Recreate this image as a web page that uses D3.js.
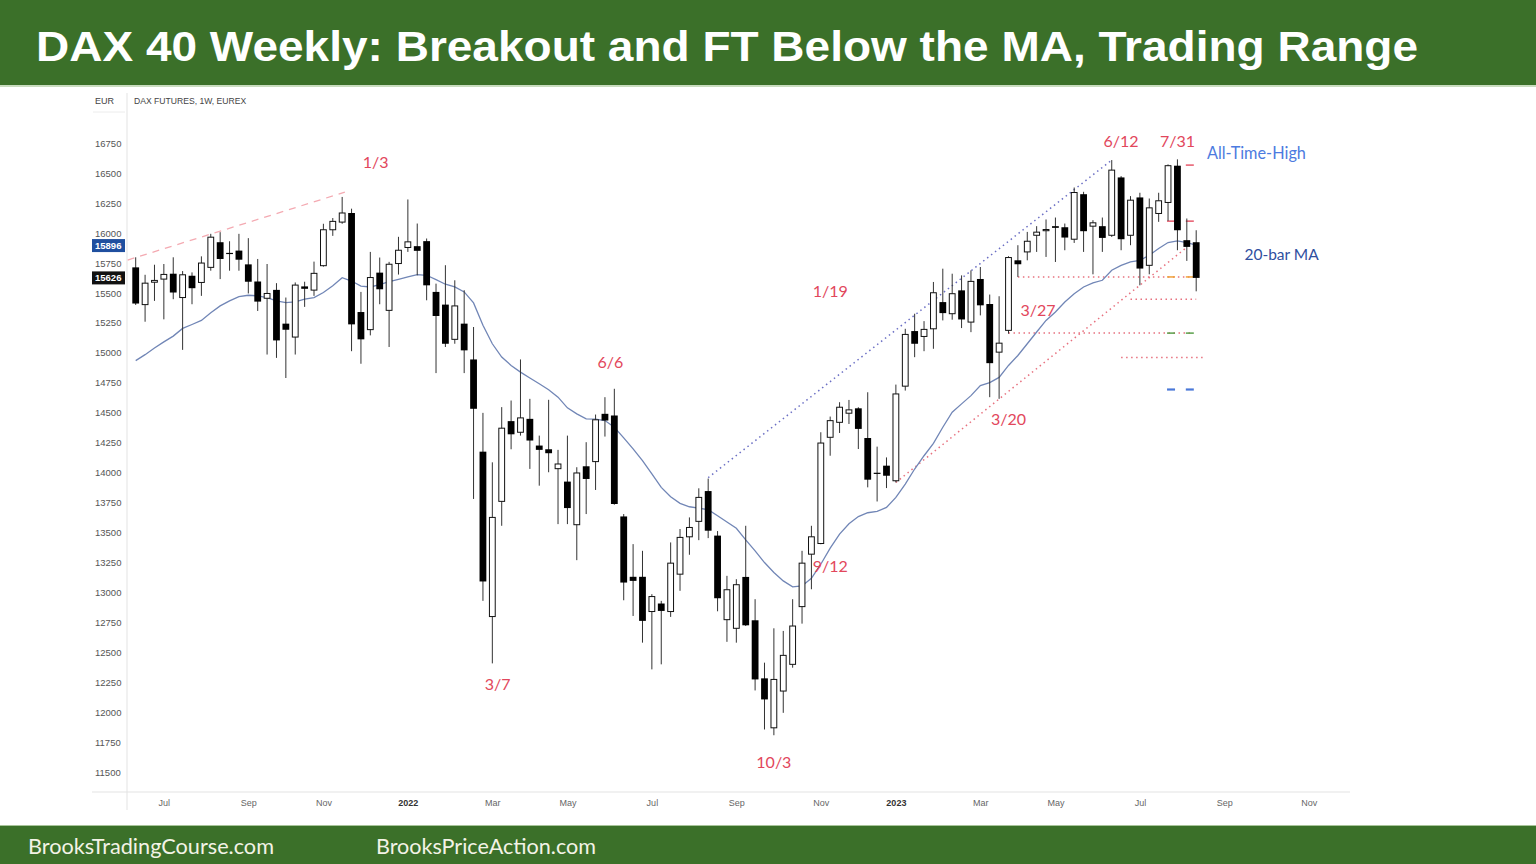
<!DOCTYPE html>
<html><head><meta charset="utf-8">
<script src="https://cdn.jsdelivr.net/npm/d3@7"></script>
<style>body{margin:0;background:#fff}svg{display:block}</style>
</head><body><svg id="c" width="1536" height="864"></svg>
<script>
// ---------------- DATA ----------------
const startDate = "2021-06-14"; // first weekly bar (Monday)
const opens = [15714,15403,15590,15616,15661,15462,15644,15588,15714,15924,
15835,15854,15739,15596,15456,15526,15244,15132,15555,15524,
15728,16028,16092,16168,15341,15194,15670,15355,15746,15880,
15891,15933,15509,15403,15113,15244,14945,14175,12798,13760,
14430,14337,14449,14226,14195,14033,13925,13565,14053,14092,
14491,14477,13634,13130,13130,12840,12907,12840,13152,13464,
13593,13846,13474,12772,12700,13129,12767,12282,11869,12176,
12399,12881,13319,13408,14295,14420,14496,14537,14289,13999,
14058,13932,14722,15182,15137,15201,15424,15327,15522,15257,
15617,15408,15006,15188,15773,15843,15982,16020,16058,16049,
15949,16325,16058,16058,15982,16465,15982,16298,15731,16164,
16256,16563,15941,15924];
const highs = [15798,15652,15736,15742,15798,15683,15672,15806,15994,16008,
15932,15994,15958,15784,15742,15582,15462,15588,15594,15762,
16078,16126,16302,16204,15509,15843,15796,15760,15969,16281,
16080,15955,15578,15732,15606,15523,15216,14499,14086,14547,
14602,14945,14616,14309,14608,14190,14309,14045,14254,14485,
14630,14700,13654,13403,13347,12985,12929,13417,13529,13626,
13869,13950,13512,13138,13110,13556,12943,12413,12700,12678,
12943,13347,13556,14337,14468,14588,14607,14546,14671,14217,
14127,14735,15201,15327,15265,15592,15703,15661,15647,15689,
15717,15487,15473,15807,15899,16010,16058,16114,16130,16080,
16381,16345,16108,16130,16610,16476,16309,16337,16289,16337,
16574,16616,16122,16024];
const lows = [15400,15260,15434,15280,15448,15025,15406,15476,15686,15616,
15686,15686,15496,15350,14986,14958,14790,14986,15384,15476,
15720,15977,16078,15014,14909,15146,15406,15049,15654,15843,
15648,15439,14831,15049,15076,14831,13780,12929,12407,13556,
14195,14309,14031,13891,14003,13570,13570,13269,13654,13855,
14301,13732,12934,12803,12580,12357,12399,12795,13013,13314,
13436,13453,12842,12587,12580,12719,12181,11855,11807,11994,
12371,12739,13026,13402,14141,14331,14406,14197,13877,13759,
13871,13918,14685,14964,15014,15034,15271,15277,15207,15173,
15313,14630,14616,15160,15634,15773,15843,15801,15759,15857,
15918,15843,15656,15843,15968,15857,15899,15564,15656,16094,
16102,15857,15768,15514];
const closes = [15412,15582,15605,15655,15504,15652,15540,15750,15966,15784,
15828,15778,15594,15428,15496,15104,15193,15566,15535,15664,
16028,16098,16168,15238,15113,15629,15531,15740,15857,15927,
15852,15564,15308,15076,15392,15021,14533,13091,13626,14371,
14320,14457,14268,14190,14162,14072,13704,13997,13947,14441,
14435,13738,13082,13096,12762,12965,12845,13244,13459,13542,
13793,13515,12951,13022,13064,12725,12273,12106,12273,12474,
12719,13244,13464,14247,14434,14546,14524,14365,13941,13994,
13974,14657,15154,15076,15196,15502,15332,15494,15279,15597,
15397,14914,15081,15796,15740,15932,16008,16030,16044,15963,
16339,16016,16086,15960,16526,15949,16275,15704,16211,16270,
16563,16024,15885,15626];
// 20-bar moving average
const ma20 = [14935,14985,15040,15092,15140,15204,15237,15271,15335,15392,
15434,15470,15481,15476,15462,15434,15420,15425,15448,15462,
15504,15560,15628,15600,15558,15550,15570,15594,15614,15634,
15653,15648,15612,15573,15551,15509,15417,15230,15076,14965,
14895,14839,14790,14742,14692,14630,14541,14491,14449,14446,
14435,14379,14290,14198,14100,13989,13877,13799,13743,13715,
13704,13690,13640,13588,13535,13438,13347,13249,13166,13096,
13046,13054,13118,13235,13369,13486,13573,13633,13665,13676,
13709,13793,13904,14030,14141,14245,14379,14504,14574,14643,
14727,14751,14795,14895,14978,15076,15174,15271,15341,15425,
15494,15550,15584,15606,15690,15731,15759,15773,15815,15871,
15921,15935,15920,15900];

const priceTicks = [11500,11750,12000,12250,12500,12750,13000,13250,13500,13750,14000,14250,14500,14750,15000,15250,15500,15750,16000,16250,16500,16750];
const xTickDates = ["2021-07-05","2021-09-06","2021-11-01","2022-01-03","2022-03-07","2022-05-02","2022-07-04","2022-09-05","2022-11-07","2023-01-02","2023-03-06","2023-05-01","2023-07-03","2023-09-04","2023-11-06"];
const xTickLabels = ["Jul","Sep","Nov","2022","Mar","May","Jul","Sep","Nov","2023","Mar","May","Jul","Sep","Nov"];

const maLast = 15896;
const closeLast = 15626;

// date labels on the chart
const annoText = ["1/3","3/7","6/6","1/19","9/12","10/3","3/20","3/27","6/12","7/31"];
const annoDates = ["2021-12-10","2022-03-11","2022-06-03","2022-11-14","2022-11-14","2022-10-03","2023-03-27","2023-04-18","2023-06-19","2023-07-31"];
const annoPrices = [16594,12234,14920,15514,13213,11581,14443,15355,16769,16769];

// trend lines [date1, price1, date2, price2]
const pinkLine = ["2021-06-08",15775,"2021-11-17",16342];
const blueDotLine = ["2022-08-15",13958,"2023-06-12",16610];
const redDiagLine = ["2023-01-02",13918,"2023-08-07",15882];
// horizontal dotted levels: start date, end date, price
const levelStarts = ["2023-04-03","2023-06-26","2023-03-27","2023-06-19"];
const levelEnds   = ["2023-08-14","2023-08-14","2023-08-12","2023-08-21"];
const levelPrices = [15634,15447,15165,14962];
// short marker dashes: date, price
const tickDashDates  = ["2023-08-07","2023-07-24","2023-08-07","2023-07-24","2023-08-07","2023-07-24","2023-08-07","2023-07-24","2023-08-07"];
const tickDashPrices = [16568,16100,16100,15634,15634,15165,15165,14694,14694];
const tickDashKinds  = ["red","red","red","orange","orange","green","green","blue","blue"];

// ---------------- DRAW ----------------
const svg = d3.select("#c");
const parse = d3.utcParse("%Y-%m-%d");
const d0 = parse(startDate);
const dates = opens.map((_, i) => d3.utcDay.offset(d0, 7 * i));

const x = d3.scaleUtc().domain([d0, dates[dates.length - 1]]).range([135.7, 1196.2]);
const y = d3.scaleLinear().domain([11500, 16750]).range([772, 143.3]);

// header
svg.append("rect").attr("x",0).attr("y",0).attr("width",1536).attr("height",85).attr("fill","#3b7029");
svg.append("rect").attr("x",0).attr("y",85).attr("width",1536).attr("height",2).attr("fill","#c9dcbf");
svg.append("text").attr("x",36).attr("y",61)
  .attr("font-family","'Liberation Sans', Arial, sans-serif").attr("font-weight","bold")
  .attr("font-size",43).attr("fill","#fff")
  .attr("textLength",1382).attr("lengthAdjust","spacingAndGlyphs")
  .text("DAX 40 Weekly: Breakout and FT Below the MA, Trading Range");

// footer
svg.append("rect").attr("x",0).attr("y",826).attr("width",1536).attr("height",38).attr("fill","#3b7029");
svg.append("rect").attr("x",0).attr("y",825).attr("width",1536).attr("height",1).attr("fill","#a8c49a");
const foot = svg.append("g").attr("font-family","Lato, 'Open Sans', sans-serif").attr("font-size",21).attr("fill","#f3f3e6");
foot.append("text").attr("x",28).attr("y",854).attr("textLength",246).attr("lengthAdjust","spacingAndGlyphs").text("BrooksTradingCourse.com");
foot.append("text").attr("x",376).attr("y",854).attr("textLength",220).attr("lengthAdjust","spacingAndGlyphs").text("BrooksPriceAction.com");

// chart frame
svg.append("line").attr("x1",127).attr("x2",127).attr("y1",93).attr("y2",810).attr("stroke","#e3e3e3");
svg.append("line").attr("x1",92).attr("x2",1350).attr("y1",792).attr("y2",792).attr("stroke","#e3e3e3");
svg.append("line").attr("x1",93).attr("x2",125).attr("y1",112).attr("y2",112).attr("stroke","#ececec");

svg.append("text").attr("x",95).attr("y",104).attr("font-family","'Liberation Sans', Arial, sans-serif")
  .attr("font-size",9).attr("fill","#444").text("EUR");
svg.append("text").attr("x",134).attr("y",104).attr("font-family","'Liberation Sans', Arial, sans-serif")
  .attr("font-size",8.6).attr("fill","#444").text("DAX FUTURES, 1W, EUREX");

// y axis
const yAxis = d3.axisLeft(y).tickValues(priceTicks).tickSize(0).tickFormat(d3.format("d"));
const gy = svg.append("g").attr("transform","translate(95,0)").call(yAxis);
gy.select(".domain").remove();
gy.selectAll("text").attr("text-anchor","start").attr("x",0).attr("dy","0.32em")
  .attr("font-family","'Liberation Sans', Arial, sans-serif").attr("font-size",9.5).attr("fill","#555");

// x axis
const xAxis = d3.axisBottom(x).tickValues(xTickDates.map(parse)).tickSize(0)
  .tickFormat((d,i) => xTickLabels[i]);
const gx = svg.append("g").attr("transform","translate(0,797)").call(xAxis);
gx.select(".domain").remove();
gx.selectAll("text").attr("font-family","'Liberation Sans', Arial, sans-serif").attr("font-size",9)
  .attr("fill",(d,i) => /^\d{4}$/.test(xTickLabels[i]) ? "#333" : "#666")
  .attr("font-weight",(d,i) => /^\d{4}$/.test(xTickLabels[i]) ? "bold" : "normal");

// trend lines
function seg(arr){ return {x1:x(parse(arr[0])), y1:y(arr[1]), x2:x(parse(arr[2])), y2:y(arr[3])}; }
const pl = seg(pinkLine);
svg.append("line").attr("x1",pl.x1).attr("y1",pl.y1).attr("x2",pl.x2).attr("y2",pl.y2)
  .attr("stroke","#f4aab2").attr("stroke-width",1.3).attr("stroke-dasharray","7,6");
const bl = seg(blueDotLine);
svg.append("line").attr("x1",bl.x1).attr("y1",bl.y1).attr("x2",bl.x2).attr("y2",bl.y2)
  .attr("stroke","#6b6fc4").attr("stroke-width",1.5).attr("stroke-dasharray","1.5,3.5");
const rl = seg(redDiagLine);
svg.append("line").attr("x1",rl.x1).attr("y1",rl.y1).attr("x2",rl.x2).attr("y2",rl.y2)
  .attr("stroke","#e7717f").attr("stroke-width",1.5).attr("stroke-dasharray","1.5,3.5");

// horizontal levels
svg.append("g").selectAll("line").data(levelPrices).join("line")
  .attr("x1",(d,i)=>x(parse(levelStarts[i]))).attr("x2",(d,i)=>x(parse(levelEnds[i])))
  .attr("y1",d=>y(d)).attr("y2",d=>y(d))
  .attr("stroke","#e7717f").attr("stroke-width",1.5).attr("stroke-dasharray","1.5,3.5");

// short dashes
const dashColor = {red:"#e7596c", orange:"#f0a23a", green:"#5aa04a", blue:"#4a78d8"};
svg.append("g").selectAll("line").data(tickDashPrices).join("line")
  .attr("x1",(d,i)=>x(parse(tickDashDates[i]))-1).attr("x2",(d,i)=>x(parse(tickDashDates[i]))+7)
  .attr("y1",d=>y(d)).attr("y2",d=>y(d))
  .attr("stroke",(d,i)=>dashColor[tickDashKinds[i]])
  .attr("stroke-width",(d,i)=>tickDashKinds[i]==="blue"?2.2:1.5);

// moving average
svg.append("path").datum(ma20)
  .attr("d", d3.line().x((d,i)=>x(dates[i])).y(d=>y(d)))
  .attr("fill","none").attr("stroke","#7186b6").attr("stroke-width",1.3);

// candles
const bw = 6.8;
const idx = d3.range(opens.length);
const cg = svg.append("g");
cg.selectAll("line").data(idx).join("line")
  .attr("x1",i=>x(dates[i])).attr("x2",i=>x(dates[i]))
  .attr("y1",i=>y(highs[i])).attr("y2",i=>y(lows[i]))
  .attr("stroke","#333").attr("stroke-width",1);
cg.selectAll("rect").data(idx).join("rect")
  .attr("x",i=> closes[i]>=opens[i] ? x(dates[i])-bw/2+0.5 : x(dates[i])-bw/2)
  .attr("y",i=>y(Math.max(opens[i],closes[i])))
  .attr("width",i=> closes[i]>=opens[i] ? bw-1 : bw)
  .attr("height",i=>Math.max(1.2, Math.abs(y(opens[i])-y(closes[i]))))
  .attr("fill",i=> closes[i]>=opens[i] ? "#fff" : "#000")
  .attr("stroke",i=> closes[i]>=opens[i] ? "#111" : "none")
  .attr("stroke-width",1);

// price boxes
function priceBox(v, fill){
  const yy = y(v);
  svg.append("rect").attr("x",92).attr("y",yy-6.5).attr("width",33).attr("height",13).attr("fill",fill);
  svg.append("text").attr("x",95).attr("y",yy).attr("dy","0.34em")
    .attr("font-family","'Liberation Sans', Arial, sans-serif").attr("font-size",9.5).attr("font-weight","bold")
    .attr("fill","#fff").text(v);
}
priceBox(maLast, "#1f4f9f");
priceBox(closeLast, "#111");

// annotation labels
svg.append("g").selectAll("text").data(annoText).join("text")
  .attr("x",(d,i)=>x(parse(annoDates[i]))).attr("y",(d,i)=>y(annoPrices[i]))
  .attr("dy","0.35em").attr("text-anchor","middle")
  .attr("font-family","Lato, 'Open Sans', sans-serif").attr("font-size",16)
  .attr("fill","#e2475c").text(d=>d);

svg.append("text").attr("x",x(parse("2023-08-22"))).attr("y",y(16668)).attr("dy","0.35em")
  .attr("font-family","Lato, 'Open Sans', sans-serif").attr("font-size",16.3).attr("fill","#4c7be0")
  .text("All-Time-High");
svg.append("text").attr("x",x(parse("2023-09-19"))).attr("y",y(15823)).attr("dy","0.35em")
  .attr("font-family","Lato, 'Open Sans', sans-serif").attr("font-size",15.5).attr("fill","#2f4f9f")
  .text("20-bar MA");
</script></body></html>
